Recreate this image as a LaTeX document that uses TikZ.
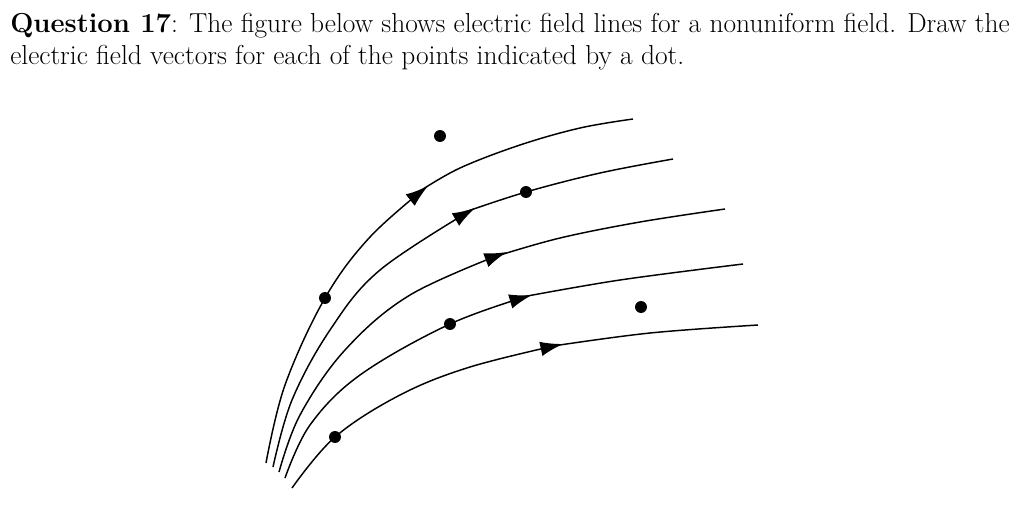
\documentclass[tikz,border=0pt]{standalone}
\usetikzlibrary{arrows.meta}
\begin{document}
\begin{tikzpicture}[x=0.0264cm,y=-0.0264cm,
  fl/.style={line width=1.1pt},
  fla/.style={line width=1.1pt,-{Latex[length=17pt,width=11pt]}},
  dot/.style={circle,fill=black,inner sep=0pt,minimum size=9pt}]
\useasboundingbox (0,0) rectangle (1024,531);
\node[anchor=base west,inner sep=0pt,font=\fontsize{20.6}{24}\selectfont] (t1) at (10,32) {\textbf{Question 17}: The figure below shows electric field lines for a nonuniform field. Draw the};
\node[anchor=base west,inner sep=0pt,font=\fontsize{20.6}{24}\selectfont] (t2) at (10,64) {electric field vectors for each of the points indicated by a dot.};
% line 1
\draw[fla] plot[smooth,tension=0.6] coordinates {(266,463)(285,385)(325,298)(370,237)(428,186)};
\draw[fl] plot[smooth,tension=0.6] coordinates {(420,191)(460,168)(520,145)(580,128)(633,119)};
% line 2
\draw[fla] plot[smooth,tension=0.6] coordinates {(273,467)(292,400)(330,330)(380,270)(475,208)};
\draw[fl] plot[smooth,tension=0.6] coordinates {(465,212)(526,192)(600,173)(673,159)};
% line 3
\draw[fla] plot[smooth,tension=0.6] coordinates {(279,472)(300,415)(345,350)(410,295)(507,252)};
\draw[fl] plot[smooth,tension=0.6] coordinates {(497,256)(560,238)(640,222)(725,209)};
% line 4
\draw[fla] plot[smooth,tension=0.6] coordinates {(285,478)(310,425)(360,375)(450,324)(532,295)};
\draw[fl] plot[smooth,tension=0.6] coordinates {(522,297)(620,280)(743,264)};
% line 5
\draw[fla] plot[smooth,tension=0.6] coordinates {(292,488)(335,437)(400,395)(470,367)(563,344)};
\draw[fl] plot[smooth,tension=0.6] coordinates {(553,346)(650,333)(758,325)};
\node[dot] (d1) at (440,136) {};
\node[dot] (d2) at (526,192) {};
\node[dot] (d3) at (325,298) {};
\node[dot] (d4) at (450,324) {};
\node[dot] (d5) at (641,307) {};
\node[dot] (d6) at (335,437) {};
\end{tikzpicture}
\end{document}
